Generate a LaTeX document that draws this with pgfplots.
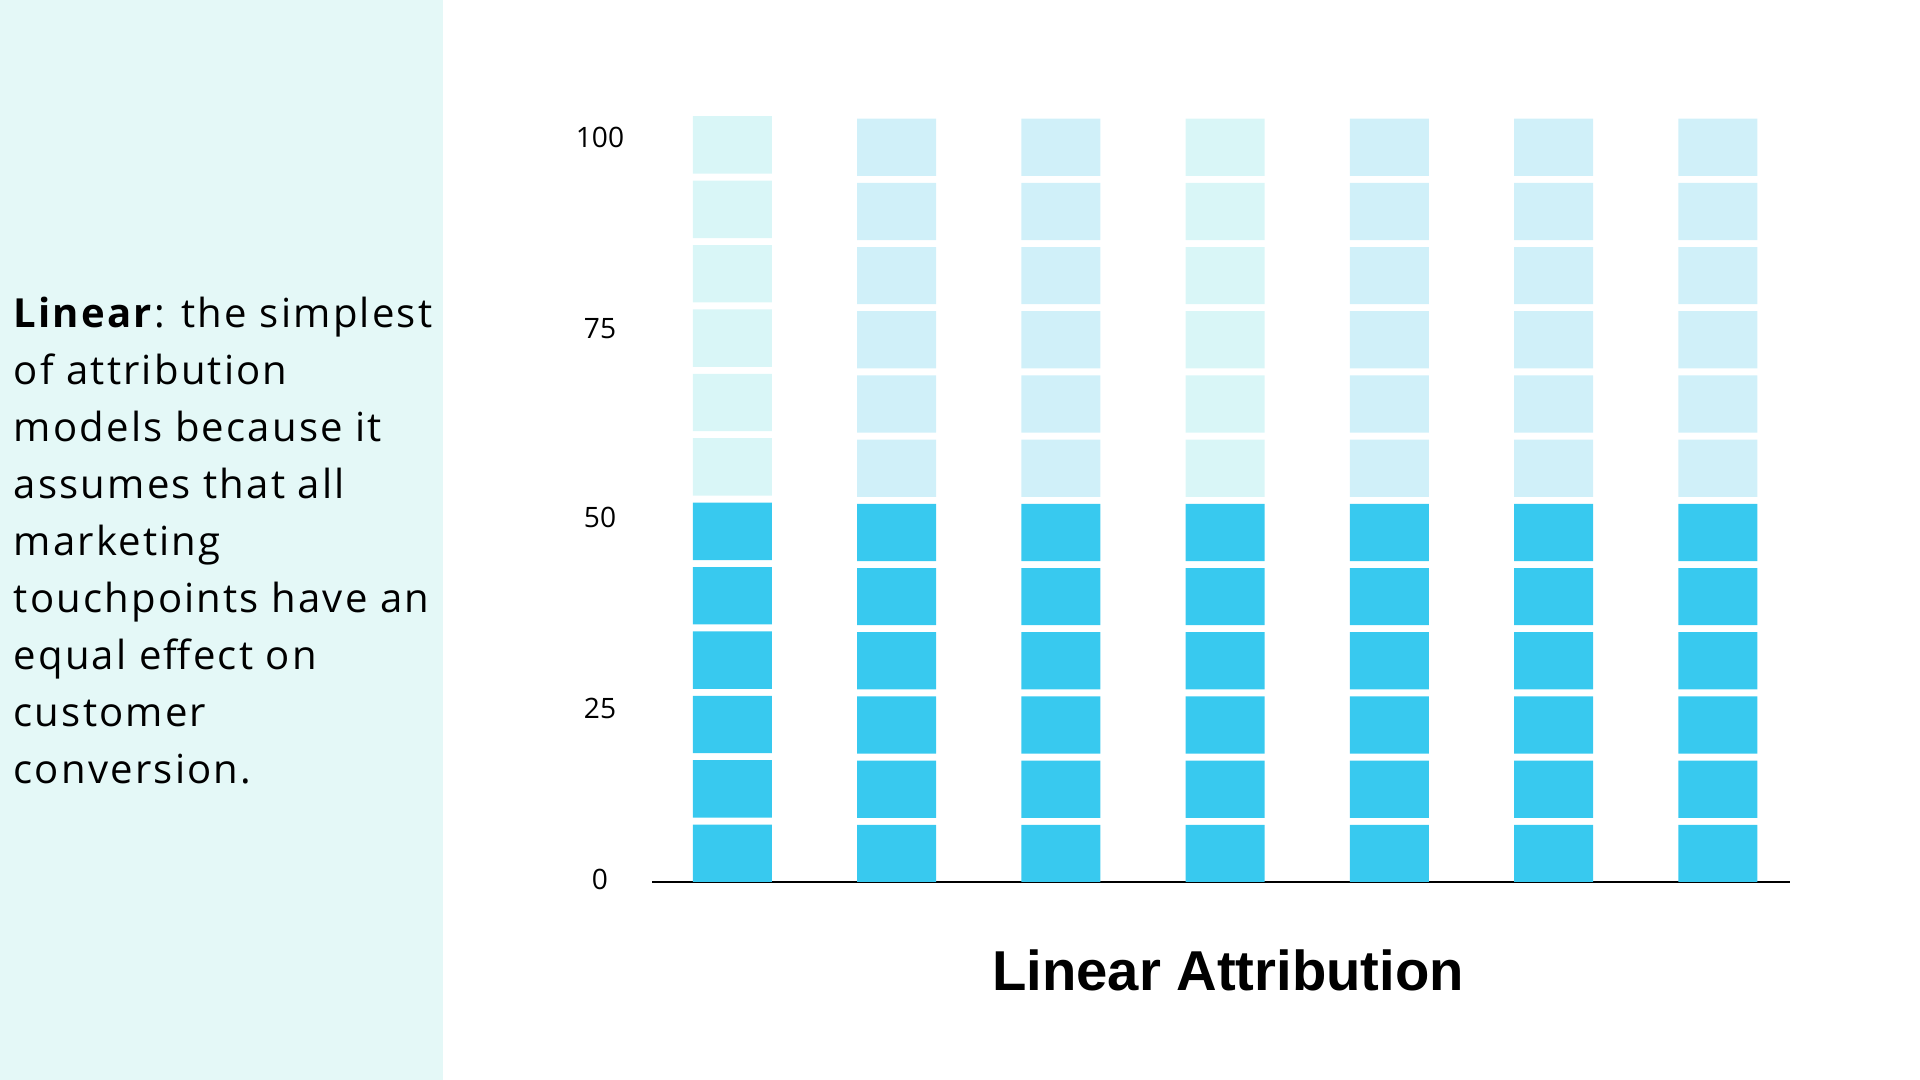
\documentclass[border=0pt]{standalone}
\usepackage{fontspec}
\setmainfont{Open Sans}
\newfontfamily\bodyfont[LetterSpace=5.5]{Open Sans}
\newfontfamily\titlefont{Liberation Sans}
\usepackage{pgfplots}
\usepackage{pgfplotstable}
\pgfplotsset{compat=1.18}
\definecolor{dark}{HTML}{38C9EF}
\definecolor{lightA}{HTML}{D9F6F7}
\definecolor{lightB}{HTML}{D0F0F9}
\definecolor{panel}{HTML}{E4F8F7}
\pgfplotstableread{
x blk la lb gap
0 57.4 57.4 0 7
1 57.2 0 57.2 7
2 57.2 0 57.2 7
3 57.2 57.2 0 7
4 57.2 0 57.2 7
5 57.2 0 57.2 7
6 57.2 0 57.2 7
}\data
\begin{document}
\begin{tikzpicture}[x=1mm,y=1mm]
\path[use as bounding box] (0,0) rectangle (192,108);
\fill[panel] (0,0) rectangle (44.3,108);
\begin{axis}[
  at={(65.2mm,19.8mm)}, anchor=south west,
  scale only axis, width=113.8mm, height=77mm,
  xmin=-0.49, xmax=6.44, ymin=0, ymax=770,
  ybar stacked, bar width=7.9mm,
  axis lines=left,
  x axis line style={-, black, line width=0.2mm},
  y axis line style={draw=none},
  xtick=\empty,
  ytick={3,174,365,553.5,745},
  yticklabels={0,25,50,75,100},
  major tick length=0pt,
  yticklabel style={anchor=center, xshift=-5.2mm, font=\fontsize{8}{9}\selectfont},
  /pgf/number format/assume math mode=true,
  clip=false,
]
\pgfplotsinvokeforeach{1,...,6}{
  \addplot[fill=dark, draw=none] table[x=x,y=blk]{\data};
  \addplot[fill=none, draw=none] table[x=x,y=gap]{\data};
}
\pgfplotsinvokeforeach{1,...,6}{
  \addplot[fill=lightA, draw=none] table[x=x,y=la]{\data};
  \addplot[fill=lightB, draw=none] table[x=x,y=lb]{\data};
  \addplot[fill=none, draw=none] table[x=x,y=gap]{\data};
}
\end{axis}
\begin{scope}[every node/.style={anchor=base west, inner sep=0pt, font=\bodyfont\fontsize{11.4}{16.2}\selectfont}]
\node at (1.3,75.2) {\textbf{Linear}: the simplest};
\node at (1.3,69.51) {of attribution};
\node at (1.3,63.82) {models because it};
\node at (1.3,58.13) {assumes that all};
\node at (1.3,52.44) {marketing};
\node at (1.3,46.75) {touchpoints have an};
\node at (1.3,41.06) {equal effect on};
\node at (1.3,35.37) {customer};
\node at (1.3,29.68) {conversion.};
\end{scope}
\node[anchor=base, inner sep=0pt, font=\titlefont\bfseries\fontsize{16}{19}\selectfont] at (122.8,8.9) {Linear Attribution};
\end{tikzpicture}
\end{document}
